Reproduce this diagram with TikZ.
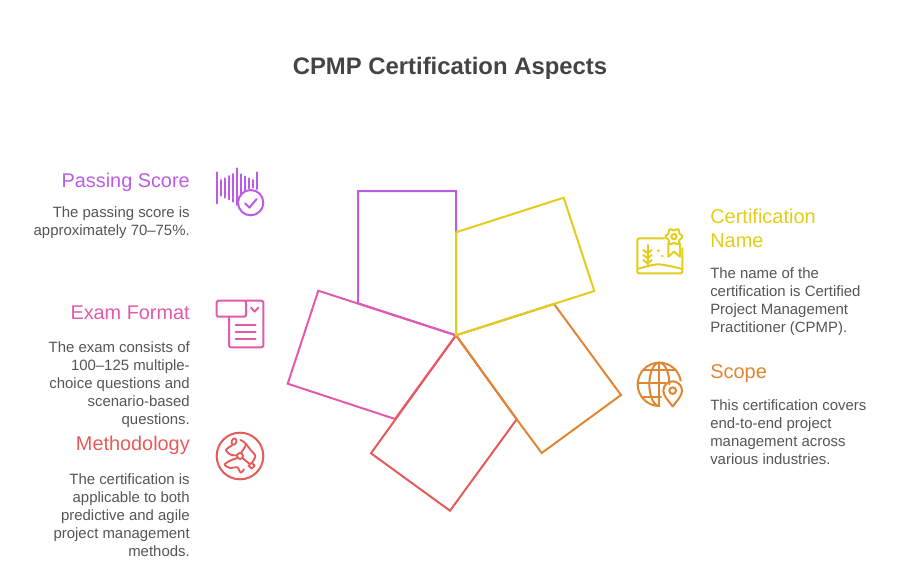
\documentclass[tikz,border=0pt]{standalone}
\usepackage{fontspec}
\setmainfont{Liberation Sans}
\usepackage{xcolor}
\definecolor{titlegray}{RGB}{68, 68, 68}
\definecolor{bodygray}{RGB}{85, 85, 85}
\definecolor{scorepurple}{RGB}{188, 92, 230}
\definecolor{namegold}{RGB}{227, 205, 27}
\definecolor{scopeorange}{RGB}{224, 134, 48}
\definecolor{methodred}{RGB}{232, 90, 90}
\definecolor{formatpink}{RGB}{227, 90, 172}
\tikzset{
    headleft/.style={anchor=east, inner sep=0pt, font=\fontsize{14.9}{18}\selectfont},
    headright/.style={anchor=west, inner sep=0pt, align=left, font=\fontsize{15}{18}\selectfont},
    bodyleft/.style={anchor=north east, inner sep=0pt, align=right, text=bodygray, font=\fontsize{11.2}{13.5}\selectfont},
    bodyright/.style={anchor=north west, inner sep=0pt, align=left, text=bodygray, font=\fontsize{11.2}{13.5}\selectfont},
    petal/.style={line width=1.5pt, line join=miter},
    icon/.style={line width=1.5pt, line cap=round, line join=round},
    iconscope/.style={x=.25pt, y=-.25pt}
}

\begin{document}
\begin{tikzpicture}[x=.75pt, y=-.75pt]
    \useasboundingbox (0,0) rectangle (900,578);

    % Title
    \node[font=\fontsize{17.9}{22}\selectfont\bfseries, text=titlegray] (title) at (450,68) {CPMP Certification Aspects};

    % Petals
    \coordinate (hub) at (456,335.3);
    \draw[petal, scorepurple] (hub) -- (456,191) -- (358,191) -- (358,303.3) -- cycle;
    \draw[petal, formatpink] (hub) -- (318.3,290.7) -- (287.7,383.7) -- (395,419) -- cycle;
    \draw[petal, methodred] (hub) -- (516.7,419.3) -- (450,510.7) -- (371,453.3) -- cycle;
    \draw[petal, scopeorange] (hub) -- (554,304) -- (621,395) -- (541.7,453) -- (516.7,419.3) -- cycle;
    \draw[petal, namegold] (hub) -- (456,232.3) -- (563.7,197.7) -- (594.3,291) -- cycle;

    % Left column
    \node[headleft, text=scorepurple] (scorehead) at (190,182) {Passing Score};
    \node[bodyleft] (scorebody) at (190,206.5) {The passing score is\\approximately 70–75\%.};

    \node[headleft, text=formatpink] (formathead) at (190,313) {Exam Format};
    \node[bodyleft] (formatbody) at (190,341.5) {The exam consists of\\100–125 multiple-\\choice questions and\\scenario-based\\questions.};

    \node[headleft, text=methodred] (methodhead) at (190,445.5) {Methodology};
    \node[bodyleft] (methodbody) at (190,473.5) {The certification is\\applicable to both\\predictive and agile\\project management\\methods.};

    % Right column
    \node[headright, text=namegold] (namehead) at (710,228) {Certification\\Name};
    \node[bodyright] (namebody) at (710,267) {The name of the\\certification is Certified\\Project Management\\Practitioner (CPMP).};

    \node[headright, text=scopeorange] (scopehead) at (710,374) {Scope};
    \node[bodyright] (scopebody) at (710,399) {This certification covers\\end-to-end project\\management across\\various industries.};

    % Score icon
    \begin{scope}[shift={(200,155)}, iconscope, icon, scorepurple]
        \foreach \x/\top/\bot in {50/52/145, 62/75/122, 74/70/128, 86/63/133, 98/57/140, 110/40/150, 122/58/122, 134/65/108, 146/70/100, 158/75/98, 170/52/102} {
            \draw (\x,\top) -- (\x,\bot);
        }
        \draw (152,143) circle (38);
        \draw (135,145) -- (148,158) -- (170,132);
    \end{scope}

    % Format icon
    \begin{scope}[shift={(200,290)}, iconscope, icon, formatpink]
        \draw[rounded corners=1pt] (50,32) rectangle (138,80);
        \draw[rounded corners=1.5pt] (138,32) -- (190,32) -- (190,172) -- (87,172) -- (87,80);
        \draw (153,53) -- (164,65) -- (175,53);
        \foreach \y in {104, 125, 146} {
            \draw (107,\y) -- (167,\y);
        }
    \end{scope}

    % Method icon
    \begin{scope}[shift={(200,420)}, iconscope, icon, methodred]
        \draw (120,108) circle (70);
        \begin{scope}[line width=1.4pt]
            \draw (120,108) circle (9);
            \draw[rotate around={-20:(102,65)}] (102,65) ellipse (7 and 10);
            \draw (155,128) -- (164,137) -- (155,146) -- (146,137) -- cycle;
            \draw plot[smooth] coordinates {(96,76) (78,90) (92,104) (111,106)};
            \draw plot[smooth] coordinates {(122,60) (138,72) (130,88) (123,99)};
            \draw plot[smooth] coordinates {(138,72) (152,90) (166,108) (156,128)};
            \draw plot[smooth] coordinates {(112,114) (90,122) (74,134) (90,144) (112,142) (122,158) (132,148)};
            \draw (127,114) -- (148,131);
        \end{scope}
    \end{scope}

    % Name icon
    \begin{scope}[shift={(625,220)}, iconscope, icon, namegold]
        \draw[rounded corners=1pt] (118,55) -- (37,55) -- (37,160) -- (172,160) -- (172,85);
        \draw plot[smooth] coordinates {(37,147) (100,133) (172,147)};
        \draw (68,75) -- (68,140);
        \foreach \y in {90, 105, 120} {
            \draw (55,\y) -- (68,\y+10) -- (80,\y);
        }
        \fill (100,92) circle (4.5);
        \fill (112,108) circle (3.5);
        \draw plot[domain=0:360, samples=73, smooth] ({147+(22+3*cos(6*\x))*cos(\x)}, {50+(22+3*cos(6*\x))*sin(\x)});
        \draw (147,50) circle (8);
        \draw (130,70) -- (130,110) -- (147,95) -- (165,110) -- (165,70);
    \end{scope}

    % Scope icon
    \begin{scope}[shift={(625,350)}, iconscope, icon, scopeorange]
        \draw (103,168) arc[start angle=90, end angle=350, radius=65];
        \draw (103,38) arc[start angle=270, end angle=90, x radius=30, y radius=65];
        \draw (103,38) arc[start angle=270, end angle=360, x radius=30, y radius=65];
        \draw (103,38) -- (103,165);
        \draw (58,60) -- (150,60);
        \draw (38,100) -- (122,100);
        \draw (55,140) -- (108,140);
        \draw (143,170) .. controls (128,148) and (115,138) .. (115,122) arc[start angle=180, end angle=360, radius=28] .. controls (171,138) and (158,148) .. (143,170);
        \draw (143,122) circle (10);
    \end{scope}
\end{tikzpicture}
\end{document}
